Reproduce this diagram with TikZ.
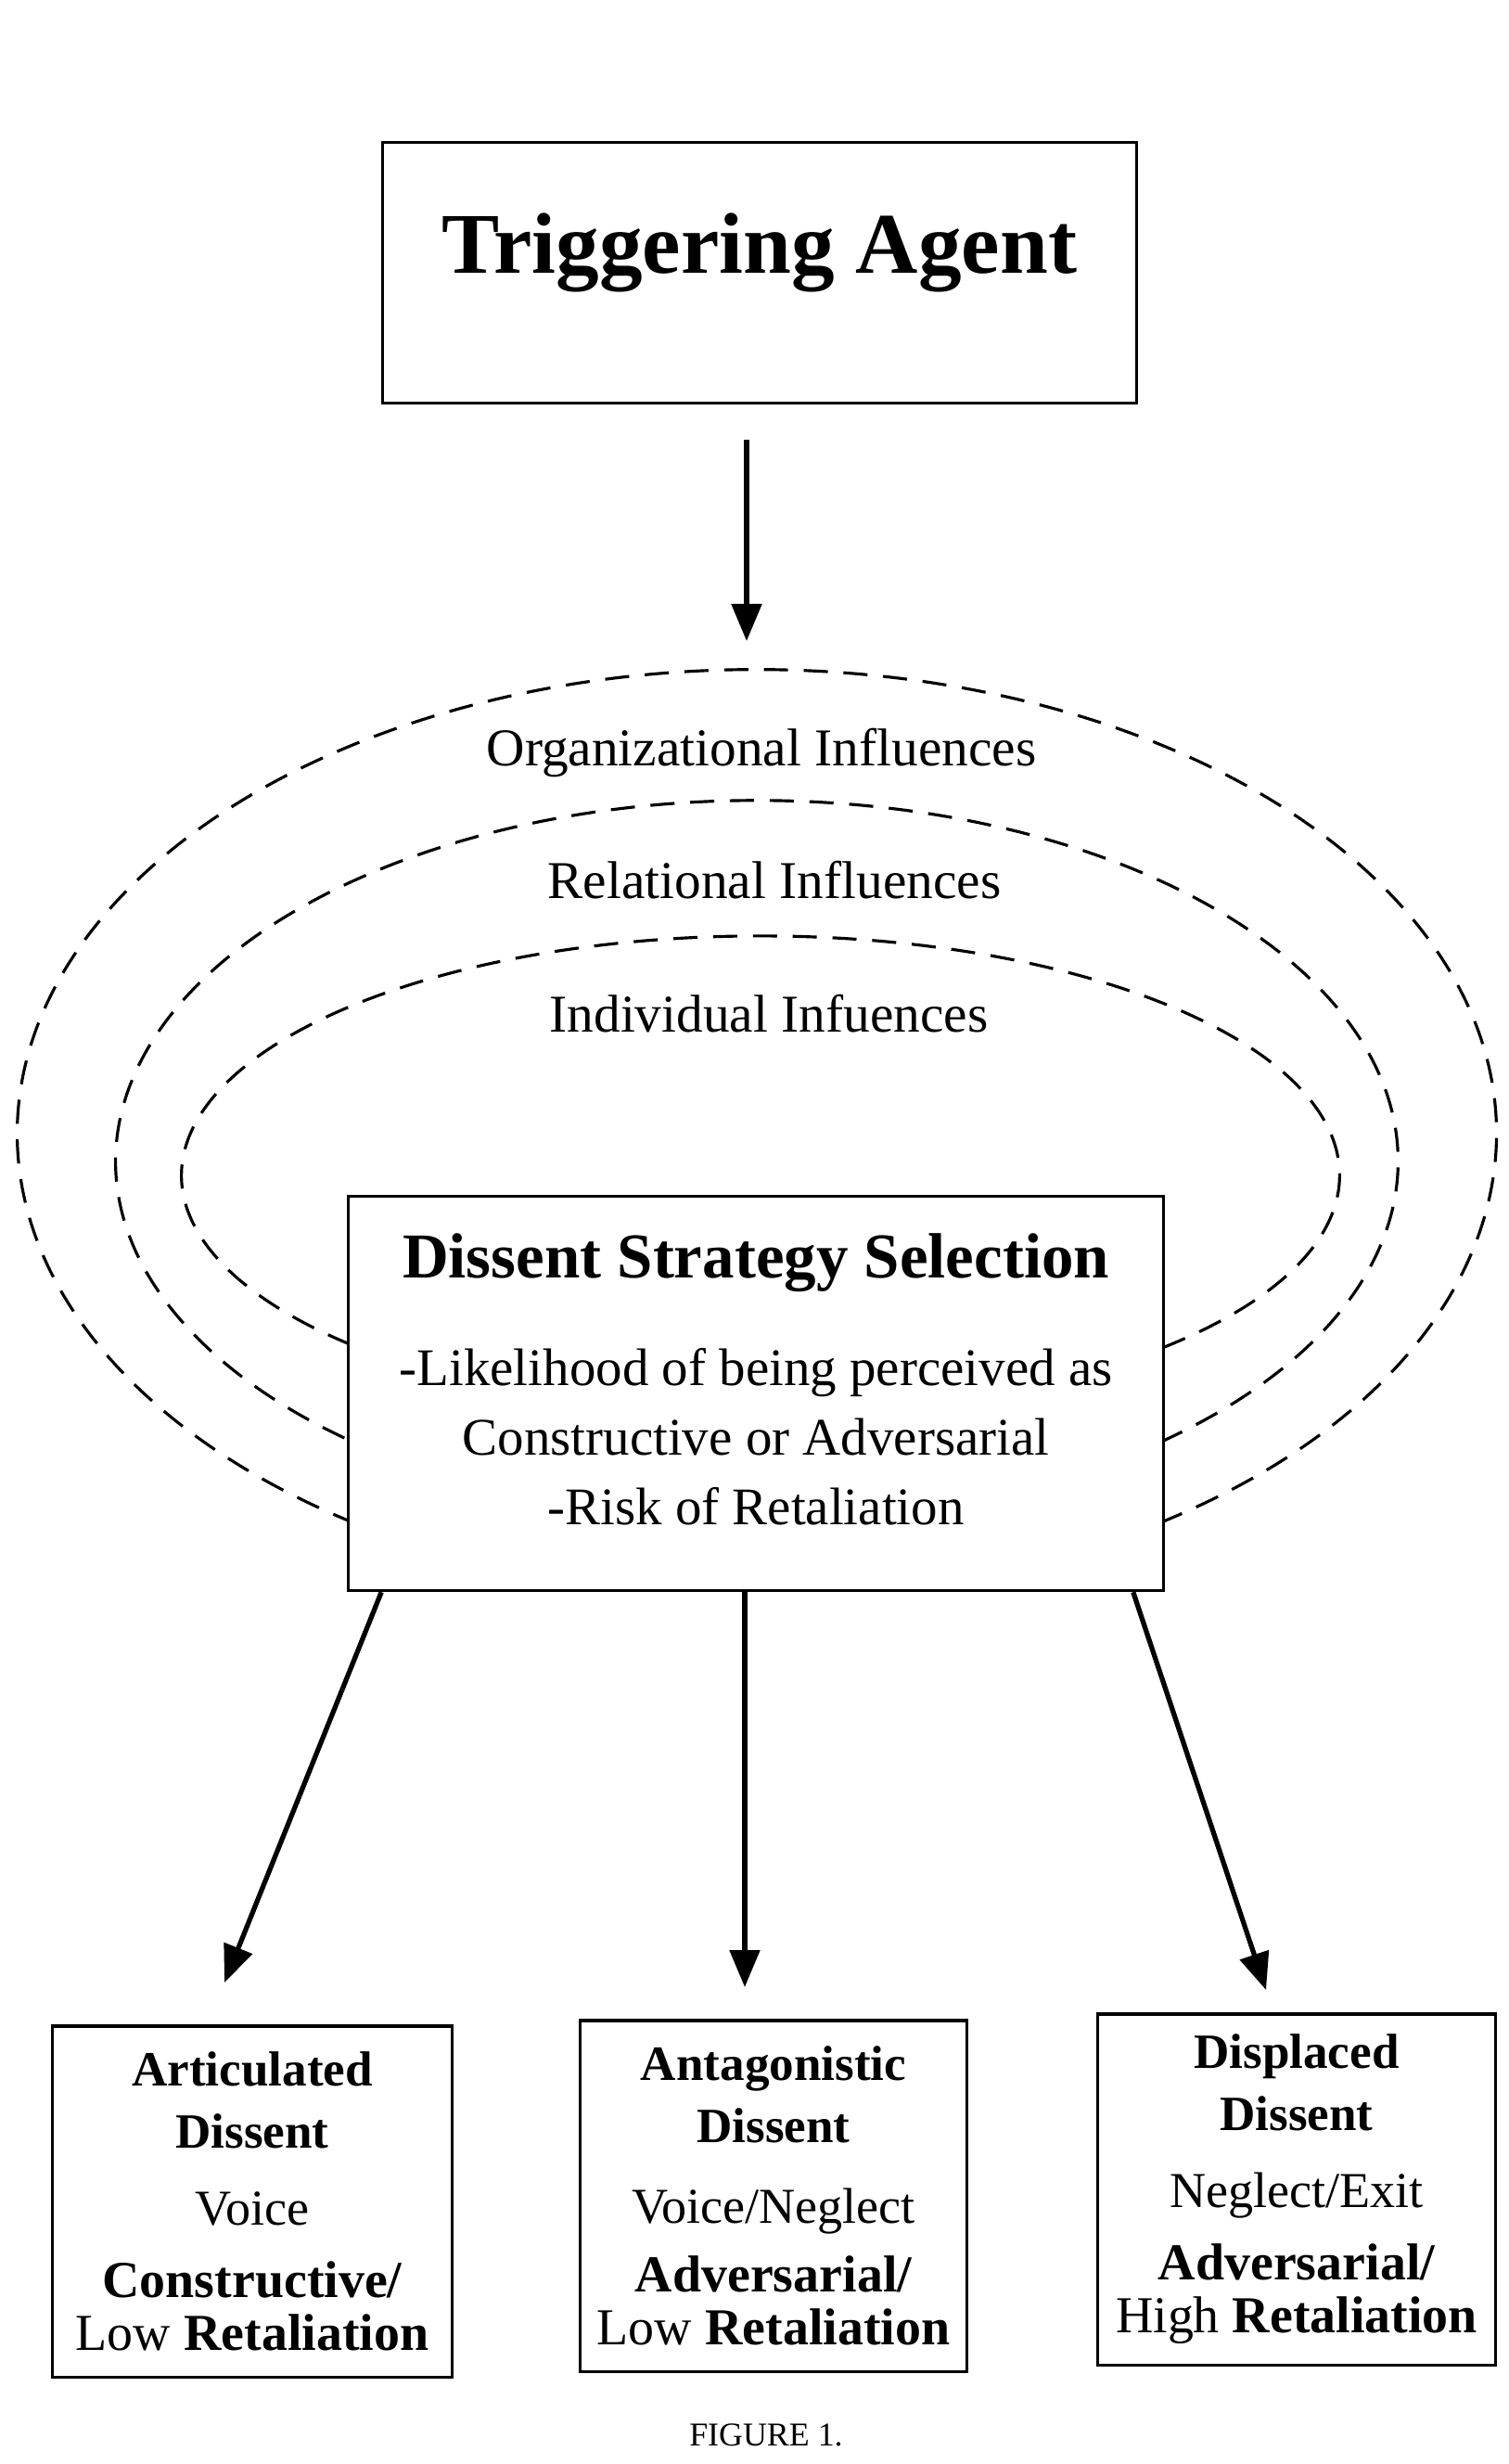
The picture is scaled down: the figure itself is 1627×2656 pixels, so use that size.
\documentclass[tikz,border=0pt]{standalone}
\usepackage{fontspec}
\setmainfont{Liberation Serif}
\usetikzlibrary{arrows.meta}
\newcommand\ttlf{\fontsize{15.1}{16.2}\selectfont\bfseries}
\newcommand\midf{\fontsize{15.4}{16.2}\selectfont}
\newcommand\lowf{\fontsize{15.9}{16.2}\selectfont\bfseries}
\newcommand\selhd{\fontsize{19.6}{21.3}\selectfont\bfseries}

\begin{document}
\begin{tikzpicture}[x=0.01cm, y=-0.01cm,
      agentbox/.style={draw, line width=0.9pt,
                  minimum width=8.12cm, minimum height=2.81cm,
                  font=\fontsize{26.5}{30}\selectfont\bfseries,
                  text height=0.64cm, text depth=0.64cm},
      selbox/.style={draw, fill=white, line width=0.9pt,
                  minimum width=8.78cm, minimum height=4.25cm,
                  font=\fontsize{16.2}{21.3}\selectfont, align=center},
      outbox/.style={draw, line width=0.9pt, minimum height=3.78cm,
                  font=\fontsize{15.1}{16.2}\selectfont, align=center},
      infl/.style={font=\fontsize{16.3}{18}\selectfont, anchor=base},
      ring/.style={dash pattern=on 7.4pt off 4.8pt, line width=0.9pt},
      arr/.style={-{Triangle[length=0.4cm, width=0.32cm]}, line width=1.5pt}
  ]
    \useasboundingbox (0,0) rectangle (1627,2656);

    \node[agentbox] (agent) at (819,294) {Triggering Agent};
    \coordinate (t1) at (805,691);
    \draw[arr, shorten <=0.38cm] (agent.south -| t1) -- (t1);

    \draw[ring] (816,1222) ++(-57:7.97cm and 5.00cm)
      arc[start angle=-57, end angle=237, x radius=7.97cm, y radius=5.00cm];
    \draw[ring] (816,1252) ++(-51:6.91cm and 3.89cm)
      arc[start angle=-51, end angle=231, x radius=6.91cm, y radius=3.89cm];
    \draw[ring] (820,1267) ++(-46:6.24cm and 2.58cm)
      arc[start angle=-46, end angle=226, x radius=6.24cm, y radius=2.58cm];

    \node[infl] (org) at (821,825)  {Organizational Influences};
    \node[infl] (rel) at (835,968)  {Relational Influences};
    \node[infl] (ind) at (829,1112) {Individual Infuences};

    \node[selbox] (sel) at (815,1502) {{\selhd Dissent Strategy Selection}\\[11.7pt]-Likelihood of being perceived as\\Constructive or Adversarial\\-Risk of Retaliation\rule[-0.31cm]{0pt}{0pt}};

    \coordinate (t2) at (242,2137);
    \coordinate (t3) at (803,2142);
    \coordinate (t4) at (1365,2145);
    \draw[arr] ([xshift=0.37cm]sel.south west) -- (t2);
    \draw[arr] (sel.south -| t3) -- (t3);
    \draw[arr] ([xshift=-0.34cm]sel.south east) -- (t4);

    \node[outbox, minimum width=4.30cm] (art) at (272,2373) {{\ttlf Articulated}\\[2.8pt]{\ttlf Dissent}\\[7.4pt]{\midf Voice}\\[6pt]{\lowf Constructive/}\\{\lowf{\mdseries Low} Retaliation}};
    \node[outbox, minimum width=4.16cm] (ant) at (834,2367) {{\ttlf Antagonistic}\\[2.8pt]{\ttlf Dissent}\\[8.5pt]{\midf Voice/Neglect}\\[5pt]{\lowf Adversarial/}\\{\lowf{\mdseries Low} Retaliation}};
    \node[outbox, minimum width=4.28cm] (dis) at (1398,2360) {{\ttlf Displaced}\\[2.8pt]{\ttlf Dissent}\\[7.4pt]{\midf Neglect/Exit}\\[6pt]{\lowf Adversarial/}\\{\lowf{\mdseries High} Retaliation}};

    \node[font=\fontsize{10.2}{12}\selectfont, anchor=base] (cap) at (826,2636) {FIGURE 1.};
  \end{tikzpicture}
\end{document}
